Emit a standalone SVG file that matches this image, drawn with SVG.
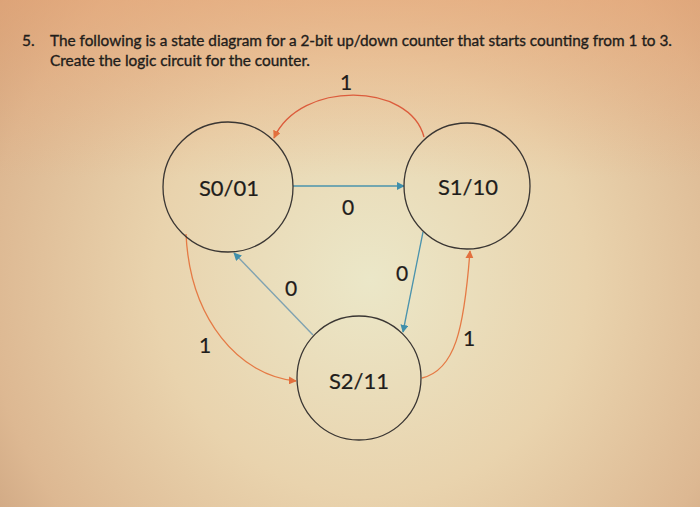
<svg xmlns="http://www.w3.org/2000/svg" width="700" height="507" viewBox="0 0 700 507">
<defs>
<radialGradient id="bg" cx="370" cy="280" r="480" gradientUnits="userSpaceOnUse">
<stop offset="0" stop-color="#ebe7c8"/>
<stop offset="0.45" stop-color="#e9d3ad"/>
<stop offset="0.8" stop-color="#ddb892"/>
<stop offset="1" stop-color="#c99f7b"/>
</radialGradient>
<linearGradient id="topglow" x1="0" y1="0" x2="0" y2="1">
<stop offset="0" stop-color="#e8a474" stop-opacity="0.6"/>
<stop offset="0.35" stop-color="#e8a474" stop-opacity="0"/>
</linearGradient>
<marker id="ab" viewBox="0 0 10 10" refX="9" refY="5" markerWidth="8" markerHeight="8" markerUnits="userSpaceOnUse" orient="auto">
<path d="M0,0 L10,5 L0,10 z" fill="#3f8fab"/>
</marker>
<marker id="ao" viewBox="0 0 10 10" refX="9" refY="5" markerWidth="8" markerHeight="8" markerUnits="userSpaceOnUse" orient="auto">
<path d="M0,0 L10,5 L0,10 z" fill="#e2703e"/>
</marker>
</defs>
<style>
.t{font-family:Lato,"Open Sans","Liberation Sans",sans-serif;fill:#1f1d1b}
.title{font-size:15.5px;stroke:#1f1d1b;stroke-width:0.35}
.st{font-size:22px;text-anchor:middle;stroke:#1f1d1b;stroke-width:0.2}
.lb{font-size:21px;text-anchor:middle;stroke:#1f1d1b;stroke-width:0.2}
.node{fill:none;stroke:#3a3633;stroke-width:1.3}
.blue{fill:none;stroke:#4a93ad;stroke-width:1.3}
.blue2{fill:none;stroke:#7fa2b1;stroke-width:1.4}
.orange{fill:none;stroke:#e57a45;stroke-width:1.3}
.red{fill:none;stroke:#dc5c3c;stroke-width:1.4}
</style>
<rect width="700" height="507" fill="url(#bg)"/>
<rect width="700" height="507" fill="url(#topglow)"/>
<g id="title">
<text class="t title" x="22" y="46">5.</text>
<text class="t title" x="50" y="46" textLength="622" lengthAdjust="spacingAndGlyphs">The following is a state diagram for a 2-bit up/down counter that starts counting from 1 to 3.</text>
<text class="t title" x="50" y="66" textLength="260" lengthAdjust="spacingAndGlyphs">Create the logic circuit for the counter.</text>
</g>
<g id="connectors">
<path class="blue" d="M293,186 L404,186" marker-end="url(#ab)"/>
<path class="red" d="M424,137 C410,82 300,80 274,138" marker-end="url(#ao)"/>
<path class="blue2" d="M313,335 L234,253" marker-end="url(#ab)"/>
<path class="blue" d="M423,232 L403,332" marker-end="url(#ab)"/>
<path class="orange" d="M186,234 C190,320 240,376 296,381" marker-end="url(#ao)"/>
<path class="orange" d="M422,378 C455,370 464,330 470,251" marker-end="url(#ao)"/>
<text class="t lb" x="346" y="90">1</text>
<text class="t lb" x="348" y="215">0</text>
<text class="t lb" x="291" y="296">0</text>
<text class="t lb" x="402" y="281">0</text>
<text class="t lb" x="205" y="353">1</text>
<text class="t lb" x="469" y="346">1</text>
</g>
<g id="S0">
<circle class="node" cx="228" cy="187" r="65"/>
<text class="t st" x="229" y="196">S0/01</text>
</g>
<g id="S1">
<circle class="node" cx="467" cy="186" r="63"/>
<text class="t st" x="468" y="195">S1/10</text>
</g>
<g id="S2">
<circle class="node" cx="359" cy="378" r="62"/>
<text class="t st" x="359" y="389">S2/11</text>
</g>
</svg>
